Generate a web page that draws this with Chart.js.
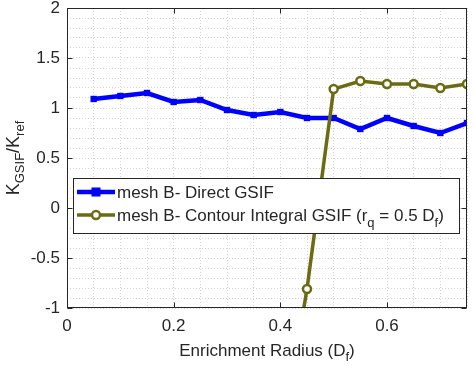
<!DOCTYPE html>
<html><head><meta charset="utf-8">
<script src="https://cdn.jsdelivr.net/npm/chart.js@4/dist/chart.umd.min.js"></script>
<style>html,body{margin:0;padding:0;background:#fff}#wrap{width:474px;height:366px;position:relative}canvas{display:block}</style>
</head><body><div id="wrap"><canvas id="c" width="474" height="366"></canvas></div>
<script>
// ---- data ----
const radius = [0.05,0.10,0.15,0.20,0.25,0.30,0.35,0.40,0.45,0.50,0.55,0.60,0.65,0.70,0.75];
const directGSIF = [1.09,1.12,1.15,1.06,1.08,0.98,0.93,0.96,0.90,0.90,0.79,0.90,0.82,0.75,0.85];
const contourRadius = [0.40,0.45,0.50,0.55,0.60,0.65,0.70,0.75];
const contourGSIF = [-2.4,-0.81,1.19,1.27,1.24,1.24,1.20,1.24];
const xTickLabels = ['0','0.2','0.4','0.6'];
const yTickLabels = ['-1','-0.5','0','0.5','1','1.5','2'];
const seriesNames = ['mesh B- Direct GSIF','mesh B- Contour Integral GSIF'];

const FONT = '"Liberation Sans", Arial, Helvetica, sans-serif';
const TXT = '#262626';
const BLUE = '#0000ff';
const OLIVE = '#6b6b12';

function pts(xs, ys){ return xs.map((x,i)=>({x:x,y:ys[i]})); }

// rich text: segments [{t, sub}]
function richDraw(ctx, segs, x, y, size, subSize, subShift, measureOnly){
  let w = 0;
  for (const s of segs){
    ctx.font = (s.sub ? subSize : size) + 'px ' + FONT;
    const sw = ctx.measureText(s.t).width;
    if (!measureOnly) ctx.fillText(s.t, x + w, y + (s.sub ? subShift : 0));
    w += sw;
  }
  return w;
}

const decor = {
  id: 'decor',
  afterDatasetsDraw(chart){
    const ctx = chart.ctx, a = chart.chartArea;
    const xs = chart.scales.x, ys = chart.scales.y;
    ctx.save();
    ctx.strokeStyle = TXT; ctx.lineWidth = 1;
    const L = Math.round(a.left)+0.5, R = Math.round(a.right)-0.5, T = Math.round(a.top)+0.5, B = Math.round(a.bottom)-0.5;
    ctx.strokeRect(L, T, R-L, B-T);
    ctx.beginPath();
    xTickLabels.forEach(l=>{
      const p = Math.round(xs.getPixelForValue(parseFloat(l)))+0.5;
      ctx.moveTo(p,B); ctx.lineTo(p,B-5);
      ctx.moveTo(p,T); ctx.lineTo(p,T+5);
    });
    yTickLabels.forEach(l=>{
      const p = Math.round(ys.getPixelForValue(parseFloat(l)))+0.5;
      ctx.moveTo(L,p); ctx.lineTo(L+5,p);
      ctx.moveTo(R,p); ctx.lineTo(R-5,p);
    });
    ctx.stroke();
    ctx.restore();
  },
  afterDraw(chart){
    const ctx = chart.ctx, a = chart.chartArea;
    ctx.save();
    // legend box
    const lx = a.left+6, ly = a.top+170, lw = a.right-a.left-14, lh = 55;
    ctx.fillStyle = '#fff';
    ctx.fillRect(lx, ly, lw, lh);
    ctx.strokeStyle = TXT; ctx.lineWidth = 1;
    ctx.strokeRect(Math.round(lx)+0.5, Math.round(ly)+0.5, Math.round(lw), Math.round(lh));
    const rows = [ly+14, ly+37];
    const ds = chart.data.datasets;
    // row 1 sample
    ctx.lineWidth = 4.5; ctx.strokeStyle = BLUE;
    ctx.beginPath(); ctx.moveTo(lx+4, rows[0]); ctx.lineTo(lx+42, rows[0]); ctx.stroke();
    ctx.fillStyle = BLUE; ctx.fillRect(lx+23-4.5, rows[0]-4.5, 9, 9);
    // row 2 sample
    ctx.lineWidth = 3.5; ctx.strokeStyle = OLIVE;
    ctx.beginPath(); ctx.moveTo(lx+4, rows[1]); ctx.lineTo(lx+42, rows[1]); ctx.stroke();
    ctx.fillStyle = '#fff'; ctx.lineWidth = 2.5;
    ctx.beginPath(); ctx.arc(lx+23, rows[1], 4, 0, Math.PI*2); ctx.fill(); ctx.stroke();
    // texts
    ctx.fillStyle = TXT; ctx.textBaseline = 'alphabetic'; ctx.textAlign = 'left';
    richDraw(ctx, [{t: ds[0].label}], lx+44, rows[0]+6, 17, 13, 5);
    richDraw(ctx, [{t: ds[1].label + ' (r'},{t:'q',sub:true},{t:' = 0.5 D'},{t:'f',sub:true},{t:')'}], lx+44, rows[1]+6, 17, 13, 6);

    // x axis title
    const xsegs = [{t:'Enrichment Radius (D'},{t:'f',sub:true},{t:')'}];
    const xw = richDraw(ctx, xsegs, 0, 0, 17, 13, 5, true);
    const cx = (a.left + a.right)/2;
    richDraw(ctx, xsegs, cx - xw/2, 356, 17, 13, 5);

    // y axis title
    const ysegs = [{t:'K'},{t:'GSIF',sub:true},{t:'/K'},{t:'ref',sub:true}];
    const yw = richDraw(ctx, ysegs, 0, 0, 18, 13, 5, true);
    ctx.translate(19, (a.top + a.bottom)/2);
    ctx.rotate(-Math.PI/2);
    richDraw(ctx, ysegs, -yw/2, 0, 18, 13, 5);
    ctx.restore();
  }
};

const bg = { id:'bg', beforeDraw(chart){ const c=chart.ctx; c.save(); c.fillStyle='#fff'; c.fillRect(0,0,chart.width,chart.height); c.restore(); } };

new Chart(document.getElementById('c'), {
  type: 'scatter',
  data: {
    datasets: [
      { label: seriesNames[0], data: pts(radius, directGSIF), showLine: true, order: 1,
        borderColor: BLUE, backgroundColor: BLUE, borderWidth: 4.5,
        pointStyle: 'rect', pointRadius: 4.5, pointBorderWidth: 0, pointBackgroundColor: BLUE },
      { label: seriesNames[1], data: pts(contourRadius, contourGSIF), showLine: true, order: 0,
        borderColor: OLIVE, backgroundColor: '#fff', borderWidth: 3.5,
        pointStyle: 'circle', pointRadius: 4, pointBorderWidth: 2.5, pointBackgroundColor: '#fff', pointBorderColor: OLIVE }
    ]
  },
  options: {
    responsive: false, animation: false, devicePixelRatio: 1,
    layout: { padding: { top: 8, right: 7, left: 0, bottom: 0 } },
    plugins: { legend: { display: false }, tooltip: { enabled: false } },
    scales: {
      x: {
        type: 'linear', min: 0, max: 0.75,
        afterFit(s){ s.height = 58; s.paddingLeft = 0; s.paddingRight = 0; },
        grid: { color: '#d4d4d4', lineWidth: 1, drawTicks: false },
        border: { display: false, dash: [1,2] },
        ticks: { stepSize: 0.05, autoSkip: false, maxRotation: 0, padding: 8, color: TXT,
          font: { family: FONT, size: 17, lineHeight: 1.2 },
          callback(v){ const r = Math.round(v*100)/100; const s = String(r); return xTickLabels.includes(s) ? s : ''; } }
      },
      y: {
        type: 'linear', min: -1, max: 2,
        afterFit(s){ s.width = 67; s.paddingTop = 0; s.paddingBottom = 0; },
        grid: { color: '#d4d4d4', lineWidth: 1, drawTicks: false },
        border: { display: false, dash: [1,2] },
        ticks: { stepSize: 0.1, autoSkip: false, padding: 7, color: TXT,
          font: { family: FONT, size: 17, lineHeight: 1 },
          callback(v){ const r = Math.round(v*10)/10; const s = String(r); return yTickLabels.includes(s) ? s : ''; } }
      }
    }
  },
  plugins: [bg, decor]
});
</script></body></html>
